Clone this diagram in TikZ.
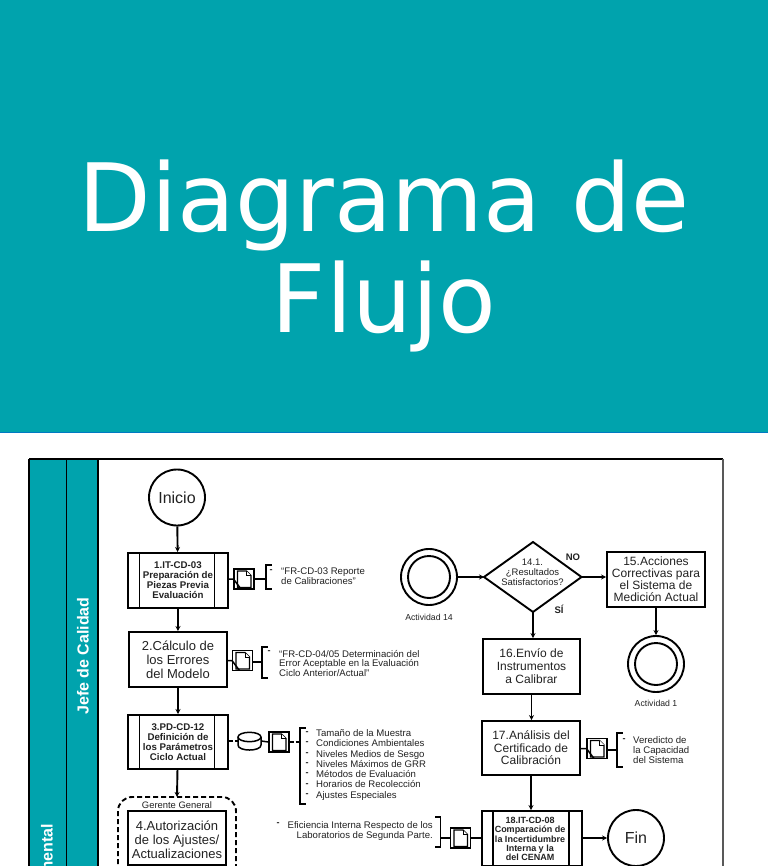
\documentclass[tikz,border=0pt]{standalone}
\usepackage{fontspec}
\setmainfont{Liberation Sans}
\newfontfamily\titlefont{DejaVu Sans}
\usetikzlibrary{arrows.meta,calc}
\definecolor{teal1}{HTML}{00A3AD}
\definecolor{txt}{HTML}{222222}
\newcommand{\fs}[1]{\fontsize{#1}{#1}\selectfont}
\tikzset{
 x=1pt,y=-1pt,
 box/.style={draw=black,line width=1.9pt,fill=white,inner sep=0pt,align=center,text=txt,font=\fs{12}},
 bigbox/.style={box,font=\fs{13}},
 boxtext/.style={inner sep=0pt,align=center,text=txt},
 line/.style={draw=black,line width=1.9pt},
 arr/.style={line,-{Stealth[length=5pt,width=5pt]}},
 conn/.style={draw=black,line width=1.5pt},
 circ/.style={draw=black,line width=1.9pt,circle,fill=white,inner sep=0pt,minimum size=56pt,font=\fs{16},text=txt},
 ring/.style={draw=black,line width=1.9pt,circle,fill=white,inner sep=0pt,minimum size=42pt},
 note/.style={inner sep=0pt,align=left,text=txt,font=\fs{9.6},anchor=west},
 lab/.style={inner sep=0pt,text=txt,font=\fs{8.7}},
 sub/.style={draw=black,line width=1.9pt,fill=white,inner sep=0pt,align=center,font=\bfseries\fs{9.7},text=txt},
 icon/.style={draw=black,line width=1.1pt,fill=white,minimum size=20pt,inner sep=0pt},
 doc/.style={draw=black,line width=1.2pt,fill=white},
 brack/.style={draw=black,line width=1.2pt},
 hyph/.style={inner sep=0pt,font=\bfseries\fs{9},text=txt},
 lanehead/.style={inner sep=0pt,text=white,font=\bfseries\fs{16},rotate=90},
 bigtitle/.style={inner sep=0pt,text=white,anchor=base,font=\titlefont\fs{94.3}},
}
\newcommand{\subproc}[7]{% name, x1,y1,x2,y2, inner offset, text
 \node[sub,minimum width=#4-#2,minimum height=#5-#3,anchor=north west] (#1) at (#2,#3) {#7};
 \draw[line] (#2+#6,#3) -- (#2+#6,#5) (#4-#6,#3) -- (#4-#6,#5);
}
\newcommand{\docicon}[3]{% name, cx, cy
 \node[icon] (#1) at (#2,#3) {};
 \draw[doc] (#2-6.5,#3-8) -- (#2+2.5,#3-8) -- (#2+7,#3-3.5) -- (#2+7,#3+8.5) -- (#2-6.5,#3+8.5) -- cycle;
 \draw[doc,line width=.8pt] (#2+2.5,#3-8) -- (#2+2.5,#3-3.5) -- (#2+7,#3-3.5);
}
\newcommand{\lbrk}[3]{\draw[brack] (#1+5.5,#2) -- (#1,#2) -- (#1,#3) -- (#1+5.5,#3);}
\begin{document}
\begin{tikzpicture}
\useasboundingbox (0,0) rectangle (768,866);
\clip (0,0) rectangle (768,866);
\fill[white] (0,0) rectangle (768,866);
\fill[teal1] (0,0) rectangle (768,432.5);
\draw[teal1!75!blue,line width=.6pt] (0,432.5) -- (768,432.5);
% title
\node[bigtitle] (title1) at (384,232) {Diagrama de};
\node[bigtitle] (title2) at (384,332) {Flujo};
% swimlane
\fill[teal1] (29,459) rectangle (98,870);
\draw[line] (29,459) -- (723,459);
\draw[line] (29,459) -- (29,870) (66.5,459) -- (66.5,870) (98,459) -- (98,870);
\draw[draw=black!65,line width=1.6pt] (723,459) -- (723,870);
\node[lanehead] (lane1) at (83,656) {Jefe de Calidad};
\node[lanehead,anchor=east] (lane2) at (47,824) {mental};
% left column
\node[circ] (inicio) at (177,497.5) {Inicio};
\subproc{b1}{127}{552}{227}{607}{12.5}{1.IT-CD-03\\[.3pt]Preparación de\\[.3pt]Piezas Previa\\[.3pt]Evaluación}
\node[bigbox,minimum width=98pt,minimum height=55pt] (b2) at (178,659.5) {\rule{0pt}{10pt}2.Cálculo de\\[1pt]los Errores\\[1pt]del Modelo};
\subproc{b3}{127}{714}{227}{768}{12.5}{3.PD-CD-12\\[.4pt]Definición de\\[.4pt]los Parámetros\\[.4pt]Ciclo Actual}
\draw[line,dash pattern=on 5pt off 3pt,rounded corners=14pt,fill=white] (118,880) -- (118,797) -- (236,797) -- (236,880);
\node[lab,font=\fs{9.4}] (gg) at (177,805.5) {Gerente General};
\node[bigbox,minimum width=98pt,minimum height=54pt] (b4) at (177,838) {};
\node[boxtext,font=\fs{13}] (b4t) at (177,840) {4.Autorización\\[1pt]de los Ajustes/\\[1pt]Actualizaciones};
\draw[arr] (inicio) -- (b1);
\draw[arr] (b1) -- (b2.north -| b1);
\draw[arr] (b2) -- (b3.north -| b2);
\draw[arr] (b3) -- (177,797);
% documents 1
\docicon{i1}{244}{579}
\draw[conn] (b1.east |- i1) -- (i1.west) -- (241,589);
\docicon{i2}{242.5}{660.5}
\draw[conn] (b2.east |- i2) -- (i2.west) -- (239.5,670.5);
\coordinate (k1) at (266,579);
\coordinate (k2) at (262,662);
\draw[conn] (i1.east) -- (k1);
\draw[conn] (i2.east |- k2) -- (k2);
\lbrk{266}{565}{589}
\lbrk{262}{647}{678}
\node[hyph] (d1) at (271,571) {-};
\node[note] (n1) at (281,576) {“FR-CD-03 Reporte\\de Calibraciones”};
\node[hyph] (d2) at (269,652) {-};
\node[note] (n2) at (279,663.5) {“FR-CD-04/05 Determinación del\\Error Aceptable en la Evaluación\\Ciclo Anterior/Actual”};
% db + doc
\node[inner sep=0pt,minimum width=23pt,minimum height=18pt] (db) at (249.5,741) {};
\draw[line,line width=1.5pt,fill=white] (238,737) -- (238,745) .. controls (238,751.7) and (261,751.7) .. (261,745) -- (261,737);
\draw[line,line width=1.5pt,fill=white] (249.5,737) ellipse [x radius=11.5,y radius=4.7];
\docicon{i3}{279}{742}
\coordinate (k3) at (300,742);
\draw[conn,dash pattern=on 4pt off 2pt] (b3.east |- db) -- (db.west);
\draw[conn] (db.east) -- (i3.west);
\draw[conn,dash pattern=on 4pt off 2pt] (i3.east) -- (k3);
\lbrk{300}{728}{804}
\node[note,anchor=north west] (n3) at (316,729.5) {Tamaño de la Muestra\\[.65pt]Condiciones Ambientales\\[.65pt]Niveles Medios de Sesgo\\[.65pt]Niveles Máximos de GRR\\[.65pt]Métodos de Evaluación\\[.65pt]Horarios de Recolección\\[.65pt]Ajustes Especiales};
\foreach \i/\y in {a/733,b/743,c/754,d/764,e/774,f/785,g/795} \node[hyph] (m\i) at (307,\y) {-};
% eficiencia
\node[hyph] (d4) at (278,824) {-};
\node[inner sep=0pt,align=right,text=txt,font=\fs{9.6},anchor=east] (n4) at (433,831) {Eficiencia Interna Respecto de los\\Laboratorios de Segunda Parte.};
\draw[brack] (435,817) -- (440.5,817) -- (440.5,847) -- (435,847);
\coordinate (k4) at (440.5,838);
\docicon{i4}{460.5}{838}
\node[draw=black,line width=1.9pt,fill=white,inner sep=0pt,minimum width=100pt,minimum height=55pt] (b18) at (532,838.5) {};
\draw[line] (493,811) -- (493,866) (569,811) -- (569,866);
\node[boxtext,font=\bfseries\fs{9}] (b18t) at (530,839) {18.IT-CD-08\\[.4pt]Comparación de\\[.4pt]la Incertidumbre\\[.4pt]Interna y la\\[.4pt]del CENAM};
\draw[conn] (k4) -- (i4.west);
\draw[conn] (i4.east) -- (b18.west |- i4);
\node[circ] (fin) at (636,838) {Fin};
\draw[arr] (b18.east |- fin) -- (fin);
% right top
\node[circ] (a14) at (429,577) {};
\node[ring] (a14i) at (429,577) {};
\node[lab] (a14l) at (429,617) {Actividad 14};
\path[draw=black,line width=1.9pt,fill=white] (533,542) coordinate (dt) -- (581.5,577) coordinate (dr) -- (533,612) coordinate (db2) -- (484,577) coordinate (dl) -- cycle;
\node[inner sep=0pt,align=center,text=txt,font=\fs{9.5}] (q) at (532.5,572) {14.1.\\[.5pt]¿Resultados\\[.5pt]Satisfactorios?};
\node[inner sep=0pt,font=\bfseries\fs{9.5},text=txt] (no) at (573,557) {NO};
\node[inner sep=0pt,font=\bfseries\fs{9.5},text=txt] (si) at (559,609) {SÍ};
\node[box,minimum width=98pt,minimum height=55pt] (b15) at (656,579.5) {15.Acciones\\Correctivas para\\el Sistema de\\Medición Actual};
\node[circ] (a1) at (656,664) {};
\node[ring] (a1i) at (656,664) {};
\node[lab] (a1l) at (656,703) {Actividad 1};
\node[box,minimum width=97pt,minimum height=55pt] (b16) at (531.5,666.5) {16.Envío de\\[1pt]Instrumentos\\[1pt]a Calibrar};
\node[box,minimum width=98pt,minimum height=54pt] (b17) at (531,748) {17.Análisis del\\[.5pt]Certificado de\\[.5pt]Calibración};
\draw[arr] (a14) -- (dl);
\draw[arr] (dr) -- (b15.west |- dr);
\draw[arr] (db2) -- (b16.north -| db2);
\draw[arr] (b15.south) -- (a1);
\draw[arr] (b16) -- (b17.north -| b16);
\draw[arr] (b17) -- (b18.north -| b17);
\docicon{i5}{597}{748.5}
\draw[conn] (b17.east |- i5) -- (i5.west) -- (594,758.5);
\coordinate (k5) at (617,750);
\draw[conn] (i5.east |- k5) -- (k5);
\lbrk{617}{733}{767}
\node[hyph] (d5) at (624,740) {-};
\node[note] (n5) at (633,750) {Veredicto de\\la Capacidad\\del Sistema};
\end{tikzpicture}
\end{document}
